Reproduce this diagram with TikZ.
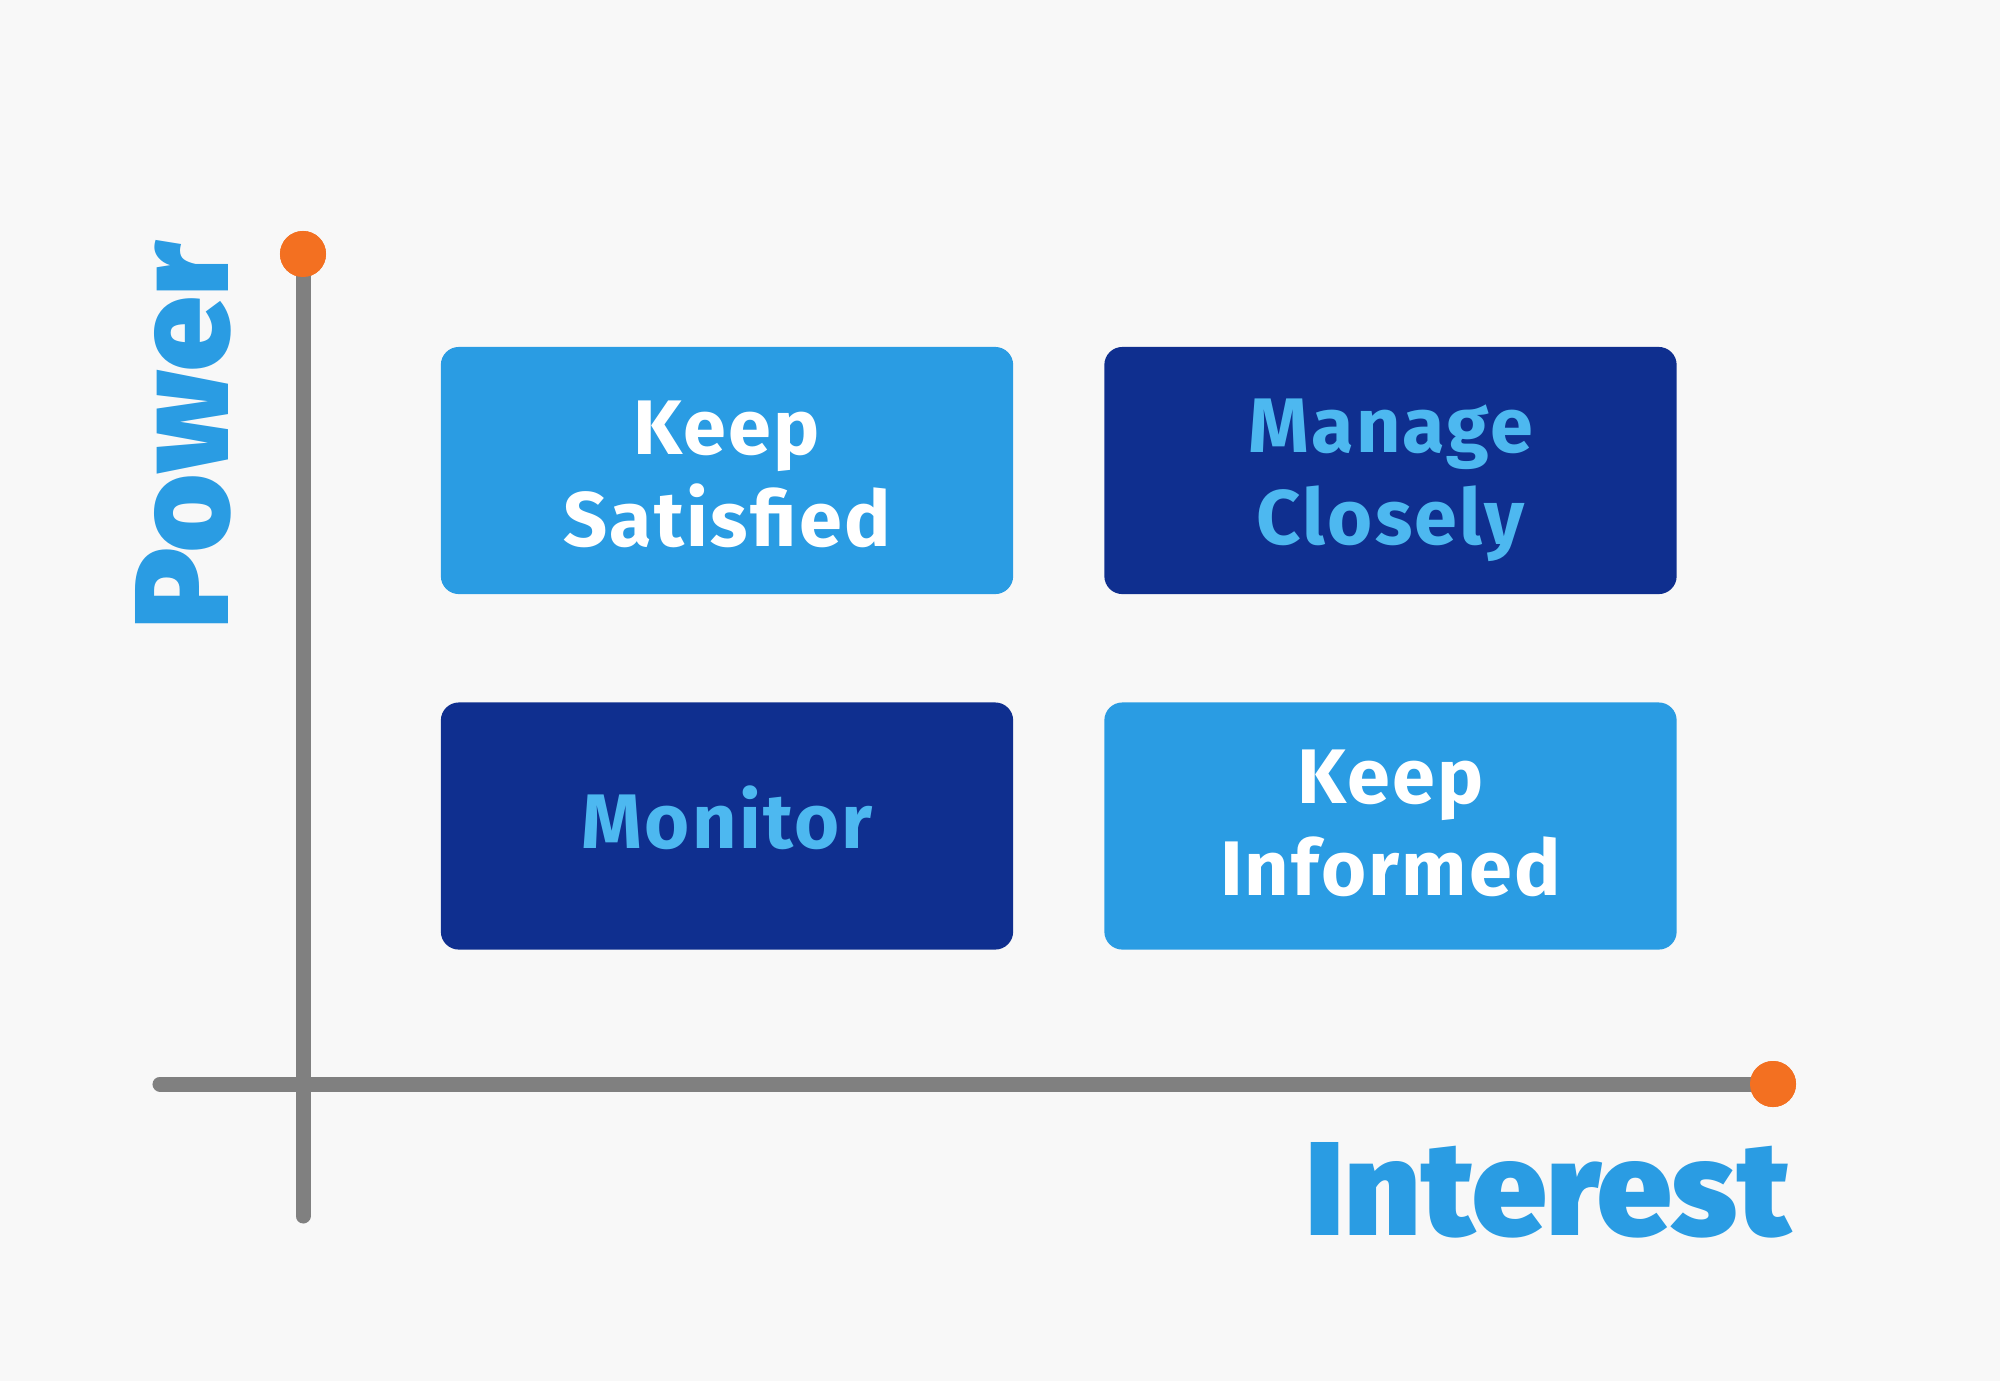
\documentclass[tikz,border=0pt]{standalone}
\usepackage{fontspec}
\setmainfont{Fira Sans}
\newfontfamily\blackfont{Fira Sans Black}
\newfontfamily\boxfont[LetterSpace=3]{Fira Sans}
\definecolor{bg}{HTML}{F8F8F8}
\definecolor{lblue}{HTML}{2A9CE3}
\definecolor{navy}{HTML}{0F2F8F}
\definecolor{ltext}{HTML}{4DB8F0}
\definecolor{axisgray}{HTML}{808080}
\definecolor{dotorange}{HTML}{F37021}
\tikzset{
  quad/.style={rectangle, rounded corners=0.18cm, minimum width=5.72cm, minimum height=2.47cm, inner sep=0pt},
  lightquad/.style={quad, fill=lblue},
  darkquad/.style={quad, fill=navy},
  quadtext/.style={inner sep=0pt, align=center, font=\boxfont\bfseries\fontsize{22}{26.2}\selectfont},
  lighttext/.style={quadtext, text=white},
  darktext/.style={quadtext, text=ltext},
  axisline/.style={draw=axisgray, line width=0.15cm, line cap=round},
  enddot/.style={circle, fill=dotorange, minimum size=0.46cm, inner sep=0pt},
  axislabel/.style={text=lblue, inner sep=0pt, font=\blackfont\fontsize{38}{40}\selectfont}
}
\begin{document}
\begin{tikzpicture}[x=0.01cm, y=-0.01cm]
\fill[bg] (0,0) rectangle (2000,1381);
\useasboundingbox (0,0) rectangle (2000,1381);
% axes
\coordinate (hstart) at (160,1084);
\coordinate (vend) at (303,1216);
\node[enddot] (ytop) at (303,254) {};
\node[enddot] (xright) at (1773,1084) {};
\draw[axisline] (hstart) -- (xright.center);
\draw[axisline] (vend) -- (ytop.center);
\node[enddot] at (303,254) {};
\node[enddot] at (1773,1084) {};
% boxes
\node[lightquad] (ks) at (727,470.5) {};
\node[darkquad] (mc) at (1390.5,470.5) {};
\node[darkquad] (mo) at (727,826) {};
\node[lightquad] (ki) at (1390.5,826) {};
\node[lighttext, yshift=-0.04cm] (kstext) at (ks.center) {Keep\\Satisfied};
\node[darktext, yshift=-0.10cm] (mctext) at (mc.center) {Manage\\Closely};
\node[darktext, yshift=0.08cm] (motext) at (mo.center) {Monitor};
\node[lighttext, yshift=0.025cm] (kitext) at (ki.center) {Keep\\Informed};
% labels
\node[axislabel, rotate=90, anchor=base] (power) at (228,436) {Power};
\node[axislabel, anchor=base] (interest) at (1548.5,1235) {Interest};
\end{tikzpicture}
\end{document}
